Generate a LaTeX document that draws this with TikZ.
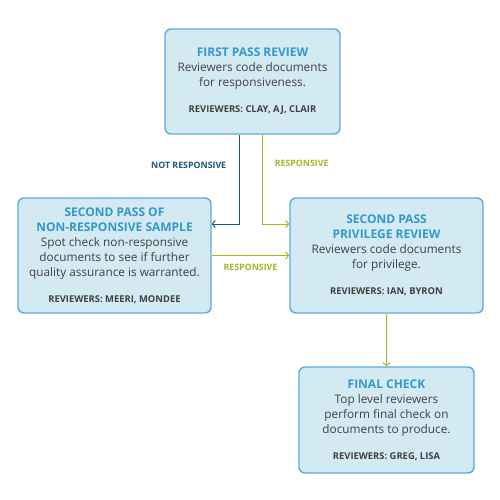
\documentclass[tikz,border=0pt]{standalone}
\usepackage{fontspec}
\setmainfont{Open Sans}
\usetikzlibrary{arrows.meta}

\definecolor{boxfill}{HTML}{D4EAF3}
\definecolor{boxline}{HTML}{5AAEDB}
\definecolor{titleblue}{HTML}{3399CC}
\definecolor{bodygray}{HTML}{404040}
\definecolor{darkline}{HTML}{1B587C}
\definecolor{greenline}{HTML}{A2B626}

\newcommand{\steptitle}[1]{{\fontsize{12}{15}\selectfont\bfseries\color{titleblue}#1}}
\newcommand{\stepteam}[1]{{\fontsize{9.4}{12}\selectfont\bfseries\color{bodygray}#1}}

\begin{document}
\begin{tikzpicture}[x=1pt,y=-1pt,>={Straight Barb[length=3pt,width=7pt]},
	stepbox/.style={draw=boxline, line width=1.4pt, fill=boxfill, rounded corners=6pt, align=center,
		text=bodygray, font=\fontsize{11.8}{15}\selectfont, inner sep=0pt,
		execute at begin node=\rule{0pt}{15pt}},
	notline/.style={draw=darkline, line width=1pt, ->},
	yesline/.style={draw=greenline, line width=1pt, ->},
	notlabel/.style={font=\fontsize{8.8}{10}\selectfont\bfseries, text=darkline},
	yeslabel/.style={font=\fontsize{8.8}{10}\selectfont\bfseries, text=greenline}]
	\useasboundingbox (0,0) rectangle (500,500);
	\node [stepbox, minimum width=175pt, minimum height=105pt] (first) at (252.5,81.5)
		{\steptitle{FIRST PASS REVIEW}\\ Reviewers code documents\\ for responsiveness.\\[11pt] \stepteam{REVIEWERS: CLAY, AJ, CLAIR}};
	\node [stepbox, minimum width=193pt, minimum height=115pt] (nonresp) at (114.5,255.5)
		{\steptitle{SECOND PASS OF}\\ \steptitle{NON-RESPONSIVE SAMPLE}\\ Spot check non-responsive\\ documents to see if further\\ quality assurance is warranted.\\[11pt] \stepteam{REVIEWERS: MEERI, MONDEE}};
	\node [stepbox, minimum width=193pt, minimum height=115pt] (priv) at (386.5,255.5)
		{\steptitle{SECOND PASS}\\ \steptitle{PRIVILEGE REVIEW}\\ Reviewers code documents\\ for privilege.\\[11pt] \stepteam{REVIEWERS: IAN, BYRON}};
	\node [stepbox, minimum width=175pt, minimum height=106pt] (final) at (386.5,420)
		{\steptitle{FINAL CHECK}\\ Top level reviewers\\ perform final check on\\ documents to produce.\\[11pt] \stepteam{REVIEWERS: GREG, LISA}};
	\path [notline] ([xshift=-13.5pt]first.south) |- node [notlabel, pos=0.17, left=9pt] {NOT RESPONSIVE} ([yshift=31.5pt]nonresp.east);
	\path [yesline] ([xshift=9.5pt]first.south) |- node [yeslabel, pos=0.16, right=9pt] {RESPONSIVE} ([yshift=31.5pt]priv.west);
	\path [yesline] (nonresp.east) -- node [yeslabel, below=5pt] {RESPONSIVE} (nonresp.east -| priv.west);
	\path [yesline] (priv.south) -- (final.north);
\end{tikzpicture}
\end{document}
